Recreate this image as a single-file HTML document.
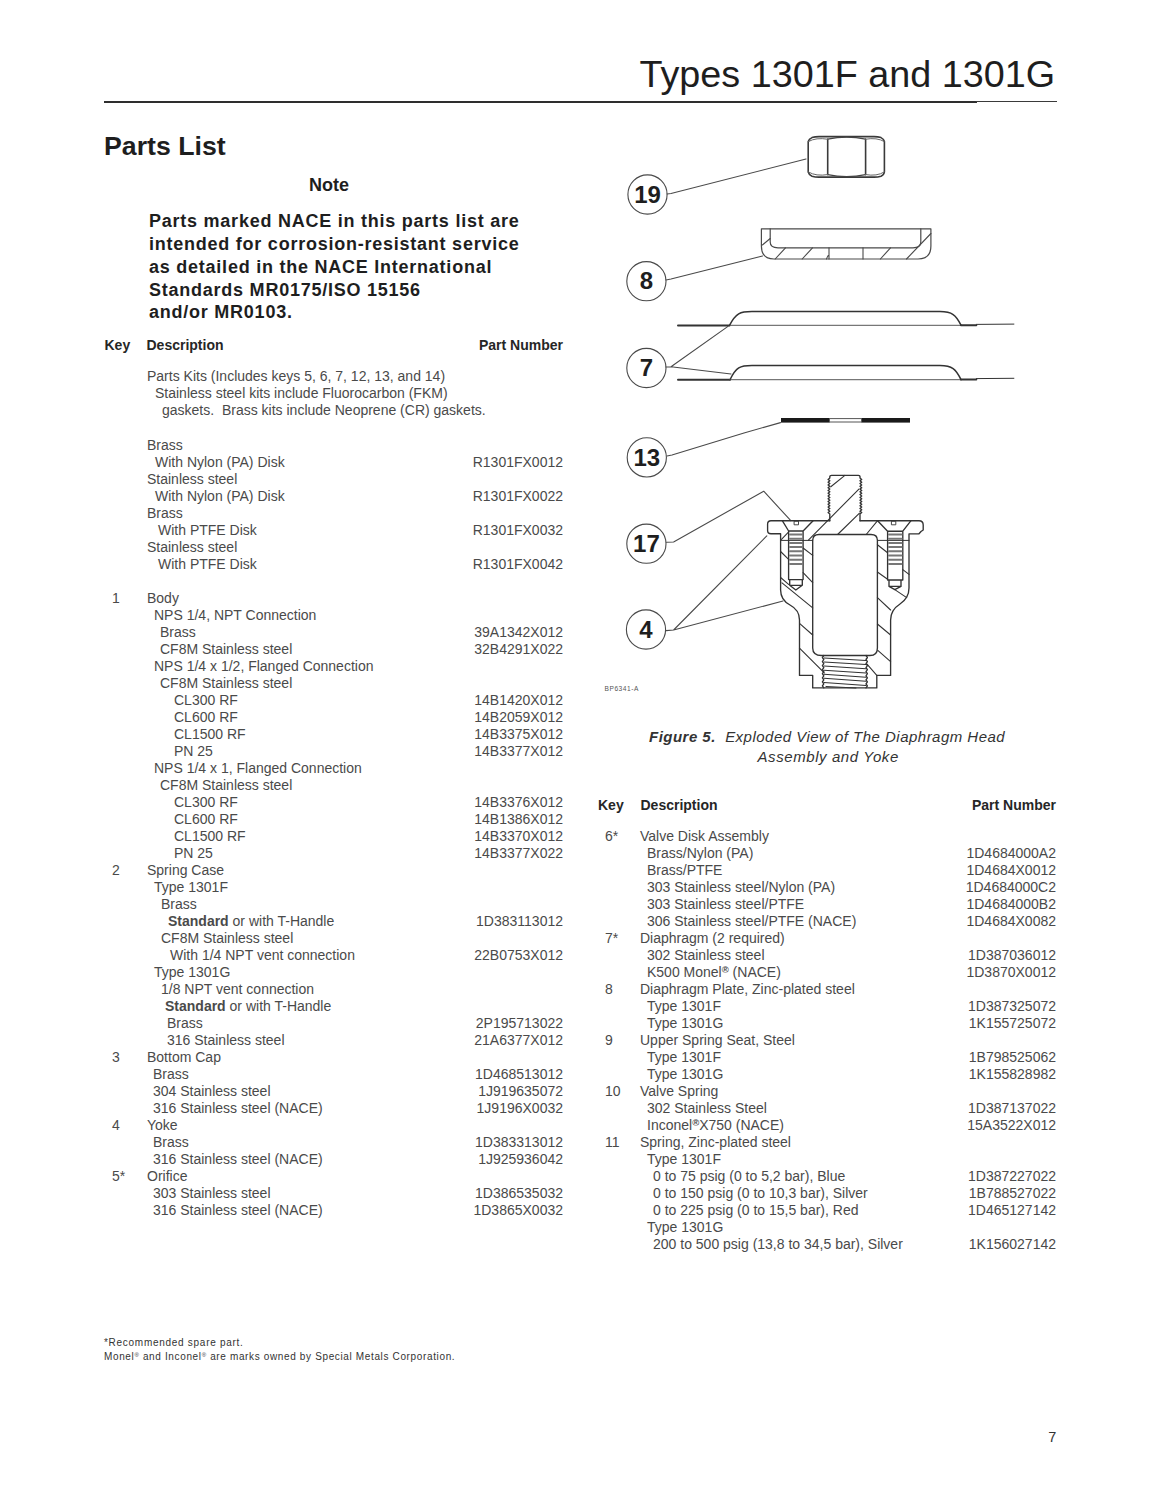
<!DOCTYPE html>
<html><head><meta charset="utf-8">
<style>
html,body{margin:0;padding:0;background:#fff;}
body{width:1159px;height:1500px;position:relative;overflow:hidden;font-family:"Liberation Sans",sans-serif;}
.t{position:absolute;white-space:nowrap;}
.t sup{font-size:68%;line-height:0;vertical-align:0.42em;font-weight:bold;}
.t sup.n{font-weight:normal;font-size:60%;}
svg{position:absolute;left:0;top:0;}
</style></head><body>
<svg width="1159" height="1500" viewBox="0 0 1159 1500">
<g fill="none" stroke="#4a4a4a" stroke-width="1.1" stroke-linejoin="round" stroke-linecap="round">
<!-- balloons -->
<circle cx="647.5" cy="194.5" r="19.6"/>
<circle cx="646.4" cy="281.2" r="19.6"/>
<circle cx="646.4" cy="368" r="19.6"/>
<circle cx="646.8" cy="457.4" r="19.6"/>
<circle cx="646.4" cy="543.7" r="19.6"/>
<circle cx="646" cy="629.5" r="19.6"/>
<!-- leaders -->
<path d="M667,194 L671,193.5 L806,159"/>
<path d="M666,280 L671,279 L762.5,256"/>
<path d="M666,367 L671,366.8 L728,326.4 M671,366.8 L731,374"/>
<path d="M667,456 L672,455 L744,433 L780.5,422.6"/>
<path d="M666.5,542.2 L673.6,542 L763.7,491.2 L790.8,520.7"/>
<path d="M666.3,630.6 L673.6,630 L766.8,535.9 M673.6,630 L783,601"/>

<!-- nut 19 -->
<path d="M808.2,141.5 Q809,139 812,137.6 Q815,136.6 819,136.6 L874,136.6 Q878,136.6 881,137.6 Q884,139 884.4,141.5 L884.4,172 Q884,175 881,176.2 Q878,177.1 874,177.1 L819,177.1 Q815,177.1 812,176.2 Q809,175 808.2,172 Z" stroke-width="1.6" stroke="#3a3a3a"/>
<path d="M827.7,139.2 L827.7,174.6 M865.6,139.2 L865.6,174.6" stroke-width="1.6" stroke="#3a3a3a"/>
<path d="M827.7,139.2 Q846.6,135.2 865.6,139.2 M827.7,174.6 Q846.6,178.6 865.6,174.6" stroke-width="1.2" stroke="#444"/>
<path d="M808.5,141.5 Q816,137.2 827.7,139.2 M865.6,139.2 Q877,137.2 884.2,141.5 M808.5,172 Q816,176.6 827.7,174.6 M865.6,174.6 Q877,176.6 884.2,172" stroke-width="1" stroke="#666"/>
<!-- diaphragm plate 8 -->
<path d="M761.4,228.8 L930.9,228.8 L930.9,246 Q930.9,259 918,259 L774,259 Q761.4,259 761.4,246 Z" stroke-width="1.2"/>
<path d="M770.2,228.8 L770.2,242 Q770.2,247.8 778,247.8 L913,247.8 Q920.8,247.8 920.8,242 L920.8,228.8" stroke-width="1.2"/>
<path d="M775.2,259 L785.5,247.8 M802.2,259 L812.5,247.8 M880.4,259 L890.5,247.8 M906.5,259 L930.9,233.5 M762.4,245 L770.2,238.5 M829,247.8 L829,259 M863,247.8 L863,259 M826.5,259 Q828,255 829,255"/>

<!-- diaphragms 7 -->
<path d="M678,325.4 L729.5,325.4" stroke-width="2" stroke="#333"/>
<path d="M729.5,325.4 L961,325.4" stroke="#777" stroke-width="1.2"/>
<path d="M729.5,325.4 C736,313 740,311.6 752,311.6 L940,311.6 C952,311.6 956,315 961,325.2" stroke-width="1.5" stroke="#333"/>
<path d="M961,325.2 L976.3,325.2" stroke-width="2" stroke="#333"/>
<path d="M976.3,324.4 L1013.9,324.1" stroke-width="1" stroke="#333"/>

<path d="M678,379.7 L730,379.7" stroke-width="2" stroke="#333"/>
<path d="M730,379.7 L961,379.7" stroke="#777" stroke-width="1.2"/>
<path d="M730,379.7 C736,367 740,365.4 752,365.4 L940,365.4 C952,365.4 956,369 961,379.6" stroke-width="1.5" stroke="#333"/>
<path d="M961,379.6 L976.3,379.6" stroke-width="2" stroke="#333"/>
<path d="M976.3,378.6 L1013.9,378.3" stroke-width="1" stroke="#333"/>

<!-- gasket 13 -->
<rect x="781" y="418" width="48.7" height="4.6" fill="#1a1a1a" stroke="none"/>
<rect x="861.3" y="418" width="48.7" height="4.6" fill="#1a1a1a" stroke="none"/>
<path d="M829.7,418.6 L861.3,418.6 M829.7,422 L861.3,422" stroke-width="1" stroke="#555"/>

<!-- yoke 4 -->
<g stroke="#333" stroke-width="1.35">
<!-- stem -->
<path d="M829.8,520.7 L829.8,514 L828.1,512.6 L829.8,511.2 L828.1,509.8 L829.8,508.5 L828.1,507.1 L829.8,505.7 L828.1,504.3 L829.8,502.9 L828.1,501.5 L829.8,500.2 L828.1,498.8 L829.8,497.4 L828.1,496.0 L829.8,494.6 L828.1,493.2 L829.8,491.8 L828.1,490.5 L829.8,489.1 L828.1,487.7 L829.8,486.3 L828.1,484.9 L829.8,483.5 L828.1,482.2 L829.8,480.8 L828.1,479.4 L829.8,478.0 L829.8,476.5 Q829.8,475.4 831.5,475.4 L858.5,475.4 Q860,475.4 860,476.5 L860,478 L861.7,479.4 L860.0,480.8 L861.7,482.2 L860.0,483.5 L861.7,484.9 L860.0,486.3 L861.7,487.7 L860.0,489.1 L861.7,490.5 L860.0,491.8 L861.7,493.2 L860.0,494.6 L861.7,496.0 L860.0,497.4 L861.7,498.8 L860.0,500.2 L861.7,501.5 L860.0,502.9 L861.7,504.3 L860.0,505.7 L861.7,507.1 L860.0,508.5 L861.7,509.8 L860.0,511.2 L861.7,512.6 L860.0,514.0 L860,520.7"/>
<!-- outer body -->
<path d="M829.8,520.7 L771,520.7 Q767.6,520.7 767.6,524 L767.6,530.5 Q767.6,533.7 771,533.7 L780.6,533.7 L780.6,590 Q780.6,600 790,605 Q799.5,610 799.5,620 L799.5,675.4 L812.7,675.4 L812.7,687.9 L876.8,687.9 L876.8,675.4 L890.6,675.4 L890.6,620 Q890.6,610 900,604 Q909,598 909,588 L909,533.8 L919,533.8 L921,531.5 L923.2,530 L923.2,525 Q923.2,520.7 919,520.7 L860,520.7"/>
<!-- cavity -->
<path d="M812.7,540.3 Q812.7,534.5 819,534.5 L871,534.5 Q877.4,534.5 877.4,540.3 L877.4,648 Q877.4,655.5 870,655.5 L821.5,655.5 Q812.7,655.5 812.7,648 Z"/>
<!-- gasket line -->
<path d="M780.6,540.4 L812.7,540.4 M877.4,540.4 L909,540.4" stroke-width="1"/>
<!-- left screw -->
<path d="M782.3,520.7 L788.6,531 L788.6,579.6 L803.1,579.6 L803.1,531 L813.1,520.7 M788.6,531 L803.1,531 M789.7,579.6 L789.7,585.3 L795.8,590 L802.3,585.3 L802.3,579.6 M789.7,585.3 L802.3,585.3"/>
<rect x="794.5" y="521.2" width="4" height="3.6" stroke-width="0.9"/>
<!-- right screw -->
<path d="M877.6,520.7 L887.6,531.2 L887.6,580 L902.8,580 L902.8,531.2 L911,520.7 M887.6,531.2 L902.8,531.2 M889,580 L889,586.4 L894.8,589.6 L901,586.4 L901,580 M889,586.4 L901,586.4"/>
<rect x="891.8" y="521.2" width="4" height="3.6" stroke-width="0.9"/>
<!-- bottom threaded hole -->
<path d="M823.8,655.5 L822.4,657.5 L823.8,659.5 L822.4,661.6 L823.8,663.6 L822.4,665.6 L823.8,667.6 L822.4,669.7 L823.8,671.7 L822.4,673.7 L823.8,675.8 L822.4,677.8 L823.8,679.8 L822.4,681.8 L823.8,683.8 L822.4,685.9 L823.8,687.9 M866,655.5 L867.4,657.5 L866.0,659.5 L867.4,661.6 L866.0,663.6 L867.4,665.6 L866.0,667.6 L867.4,669.7 L866.0,671.7 L867.4,673.7 L866.0,675.8 L867.4,677.8 L866.0,679.8 L867.4,681.8 L866.0,683.8 L867.4,685.9 L866.0,687.9"/>
<path d="M824,658 L866,660.5 M824,662 L866,664.5 M824,666 L866,668.8 M824,670.2 L866,673 M824,674.2 L866,677.2 M824,678.3 L866,681.3 M824,682.4 L866,685.4 M826,686.4 L856,687.9" stroke-width="1.05"/>
<!-- hatch -->
<path d="M830.8,486.8 L844.9,475.4 M808.4,540.1 L858.9,489.1 M837.6,534.5 L859.5,513.2 M866.2,534.5 L877.6,520.7 M781.5,539.3 L788.2,532.4
M780.6,551.5 L788.6,559.3 M803.1,548 L812.7,555.4 M780.6,577.5 L788.6,584.4 M803.1,572.7 L812.7,582.7 M782,582.9 L812.7,607.9 M799.5,623.3 L812.7,635 M799.5,648.2 L824.3,672.8
M877.4,544.8 L887.6,552.8 M877.4,572 L887.6,579.2 M902.8,569.6 L909,574.4 M877.4,597.6 L890.6,610 M894.8,589.6 L906.7,597.6 M877.4,624 L890.6,635 M877.8,650.4 L890.6,661.6 M867,664.2 L876.8,675.4" stroke-width="1.1"/>
<path d="M790,534.5 L802,534.5 M790,538.7 L802,538.7 M790,542.9 L802,542.9 M790,547.1 L802,547.1 M790,551.3 L802,551.3 M790,555.5 L802,555.5 M790,559.7 L802,559.7 M790,563.9 L802,563.9
M889,534.5 L901.5,534.5 M889,538.7 L901.5,538.7 M889,542.9 L901.5,542.9 M889,547.1 L901.5,547.1 M889,551.3 L901.5,551.3 M889,555.5 L901.5,555.5 M889,559.7 L901.5,559.7 M889,563.9 L901.5,563.9" stroke="#777" stroke-width="2"/>
</g>
</g>
</svg>

<div class="t" style="top:56.04px;font-size:37.75px;line-height:37.75px;color:#1e1e1e;right:104px;">Types 1301F and 1301G</div>
<div style="position:absolute;left:104px;top:101px;width:872.5px;height:2.2px;background:#2e2e2e"></div>
<div style="position:absolute;left:976px;top:101px;width:80.5px;height:1.3px;background:#3a3a3a"></div>
<div class="t" style="top:132.50px;font-size:26.7px;line-height:26.7px;font-weight:bold;color:#1e1e1e;left:104px;">Parts List</div>
<div class="t" style="top:176.26px;font-size:18px;line-height:18px;font-weight:bold;color:#1e1e1e;left:29px;width:600px;text-align:center;">Note</div>
<div class="t" style="top:212.26px;font-size:18px;line-height:18px;font-weight:bold;color:#1e1e1e;letter-spacing:0.76px;left:149px;">Parts marked NACE in this parts list are</div>
<div class="t" style="top:235.06px;font-size:18px;line-height:18px;font-weight:bold;color:#1e1e1e;letter-spacing:0.76px;left:149px;">intended for corrosion-resistant service</div>
<div class="t" style="top:257.86px;font-size:18px;line-height:18px;font-weight:bold;color:#1e1e1e;letter-spacing:0.76px;left:149px;">as detailed in the NACE International</div>
<div class="t" style="top:280.66px;font-size:18px;line-height:18px;font-weight:bold;color:#1e1e1e;letter-spacing:0.76px;left:149px;">Standards MR0175/ISO 15156</div>
<div class="t" style="top:303.46px;font-size:18px;line-height:18px;font-weight:bold;color:#1e1e1e;letter-spacing:0.76px;left:149px;">and/or MR0103.</div>
<div class="t" style="top:338.15px;font-size:14px;line-height:14px;font-weight:bold;color:#262626;left:104.5px;">Key</div>
<div class="t" style="top:338.15px;font-size:14px;line-height:14px;font-weight:bold;color:#262626;left:146.5px;">Description</div>
<div class="t" style="top:338.15px;font-size:14px;line-height:14px;font-weight:bold;color:#262626;right:596px;">Part Number</div>
<div class="t" style="top:369.15px;font-size:14px;line-height:14px;color:#4a4a4a;left:147px;">Parts Kits (Includes keys 5, 6, 7, 12, 13, and 14)</div>
<div class="t" style="top:386.15px;font-size:14px;line-height:14px;color:#4a4a4a;left:155px;">Stainless steel kits include Fluorocarbon (FKM)</div>
<div class="t" style="top:403.15px;font-size:14px;line-height:14px;color:#4a4a4a;left:162px;">gaskets.&nbsp; Brass kits include Neoprene (CR) gaskets.</div>
<div class="t" style="top:437.55px;font-size:14px;line-height:14px;color:#4a4a4a;left:147px;">Brass</div>
<div class="t" style="top:454.55px;font-size:14px;line-height:14px;color:#4a4a4a;left:155px;">With Nylon (PA) Disk</div>
<div class="t" style="top:454.55px;font-size:14px;line-height:14px;color:#4a4a4a;right:596px;">R1301FX0012</div>
<div class="t" style="top:471.55px;font-size:14px;line-height:14px;color:#4a4a4a;left:147px;">Stainless steel</div>
<div class="t" style="top:488.55px;font-size:14px;line-height:14px;color:#4a4a4a;left:155px;">With Nylon (PA) Disk</div>
<div class="t" style="top:488.55px;font-size:14px;line-height:14px;color:#4a4a4a;right:596px;">R1301FX0022</div>
<div class="t" style="top:505.55px;font-size:14px;line-height:14px;color:#4a4a4a;left:147px;">Brass</div>
<div class="t" style="top:522.55px;font-size:14px;line-height:14px;color:#4a4a4a;left:158px;">With PTFE Disk</div>
<div class="t" style="top:522.55px;font-size:14px;line-height:14px;color:#4a4a4a;right:596px;">R1301FX0032</div>
<div class="t" style="top:539.55px;font-size:14px;line-height:14px;color:#4a4a4a;left:147px;">Stainless steel</div>
<div class="t" style="top:556.55px;font-size:14px;line-height:14px;color:#4a4a4a;left:158px;">With PTFE Disk</div>
<div class="t" style="top:556.55px;font-size:14px;line-height:14px;color:#4a4a4a;right:596px;">R1301FX0042</div>
<div class="t" style="top:591.15px;font-size:14px;line-height:14px;color:#4a4a4a;left:112px;">1</div>
<div class="t" style="top:591.15px;font-size:14px;line-height:14px;color:#4a4a4a;left:147px;">Body</div>
<div class="t" style="top:608.15px;font-size:14px;line-height:14px;color:#4a4a4a;left:154px;">NPS 1/4, NPT Connection</div>
<div class="t" style="top:625.15px;font-size:14px;line-height:14px;color:#4a4a4a;left:160px;">Brass</div>
<div class="t" style="top:625.15px;font-size:14px;line-height:14px;color:#4a4a4a;right:596px;">39A1342X012</div>
<div class="t" style="top:642.15px;font-size:14px;line-height:14px;color:#4a4a4a;left:160px;">CF8M Stainless steel</div>
<div class="t" style="top:642.15px;font-size:14px;line-height:14px;color:#4a4a4a;right:596px;">32B4291X022</div>
<div class="t" style="top:659.15px;font-size:14px;line-height:14px;color:#4a4a4a;left:154px;">NPS 1/4 x 1/2, Flanged Connection</div>
<div class="t" style="top:676.15px;font-size:14px;line-height:14px;color:#4a4a4a;left:160px;">CF8M Stainless steel</div>
<div class="t" style="top:693.15px;font-size:14px;line-height:14px;color:#4a4a4a;left:174px;">CL300 RF</div>
<div class="t" style="top:693.15px;font-size:14px;line-height:14px;color:#4a4a4a;right:596px;">14B1420X012</div>
<div class="t" style="top:710.15px;font-size:14px;line-height:14px;color:#4a4a4a;left:174px;">CL600 RF</div>
<div class="t" style="top:710.15px;font-size:14px;line-height:14px;color:#4a4a4a;right:596px;">14B2059X012</div>
<div class="t" style="top:727.15px;font-size:14px;line-height:14px;color:#4a4a4a;left:174px;">CL1500 RF</div>
<div class="t" style="top:727.15px;font-size:14px;line-height:14px;color:#4a4a4a;right:596px;">14B3375X012</div>
<div class="t" style="top:744.15px;font-size:14px;line-height:14px;color:#4a4a4a;left:174px;">PN 25</div>
<div class="t" style="top:744.15px;font-size:14px;line-height:14px;color:#4a4a4a;right:596px;">14B3377X012</div>
<div class="t" style="top:761.15px;font-size:14px;line-height:14px;color:#4a4a4a;left:154px;">NPS 1/4 x 1, Flanged Connection</div>
<div class="t" style="top:778.15px;font-size:14px;line-height:14px;color:#4a4a4a;left:160px;">CF8M Stainless steel</div>
<div class="t" style="top:795.15px;font-size:14px;line-height:14px;color:#4a4a4a;left:174px;">CL300 RF</div>
<div class="t" style="top:795.15px;font-size:14px;line-height:14px;color:#4a4a4a;right:596px;">14B3376X012</div>
<div class="t" style="top:812.15px;font-size:14px;line-height:14px;color:#4a4a4a;left:174px;">CL600 RF</div>
<div class="t" style="top:812.15px;font-size:14px;line-height:14px;color:#4a4a4a;right:596px;">14B1386X012</div>
<div class="t" style="top:829.15px;font-size:14px;line-height:14px;color:#4a4a4a;left:174px;">CL1500 RF</div>
<div class="t" style="top:829.15px;font-size:14px;line-height:14px;color:#4a4a4a;right:596px;">14B3370X012</div>
<div class="t" style="top:846.15px;font-size:14px;line-height:14px;color:#4a4a4a;left:174px;">PN 25</div>
<div class="t" style="top:846.15px;font-size:14px;line-height:14px;color:#4a4a4a;right:596px;">14B3377X022</div>
<div class="t" style="top:863.15px;font-size:14px;line-height:14px;color:#4a4a4a;left:112px;">2</div>
<div class="t" style="top:863.15px;font-size:14px;line-height:14px;color:#4a4a4a;left:147px;">Spring Case</div>
<div class="t" style="top:880.15px;font-size:14px;line-height:14px;color:#4a4a4a;left:154px;">Type 1301F</div>
<div class="t" style="top:897.15px;font-size:14px;line-height:14px;color:#4a4a4a;left:161px;">Brass</div>
<div class="t" style="top:914.15px;font-size:14px;line-height:14px;color:#4a4a4a;left:168px;"><b>Standard</b> or with T-Handle</div>
<div class="t" style="top:914.15px;font-size:14px;line-height:14px;color:#4a4a4a;right:596px;">1D383113012</div>
<div class="t" style="top:931.15px;font-size:14px;line-height:14px;color:#4a4a4a;left:161px;">CF8M Stainless steel</div>
<div class="t" style="top:948.15px;font-size:14px;line-height:14px;color:#4a4a4a;left:170px;">With 1/4 NPT vent connection</div>
<div class="t" style="top:948.15px;font-size:14px;line-height:14px;color:#4a4a4a;right:596px;">22B0753X012</div>
<div class="t" style="top:965.15px;font-size:14px;line-height:14px;color:#4a4a4a;left:154px;">Type 1301G</div>
<div class="t" style="top:982.15px;font-size:14px;line-height:14px;color:#4a4a4a;left:161px;">1/8 NPT vent connection</div>
<div class="t" style="top:999.15px;font-size:14px;line-height:14px;color:#4a4a4a;left:165px;"><b>Standard</b> or with T-Handle</div>
<div class="t" style="top:1016.15px;font-size:14px;line-height:14px;color:#4a4a4a;left:167px;">Brass</div>
<div class="t" style="top:1016.15px;font-size:14px;line-height:14px;color:#4a4a4a;right:596px;">2P195713022</div>
<div class="t" style="top:1033.15px;font-size:14px;line-height:14px;color:#4a4a4a;left:167px;">316 Stainless steel</div>
<div class="t" style="top:1033.15px;font-size:14px;line-height:14px;color:#4a4a4a;right:596px;">21A6377X012</div>
<div class="t" style="top:1050.15px;font-size:14px;line-height:14px;color:#4a4a4a;left:112px;">3</div>
<div class="t" style="top:1050.15px;font-size:14px;line-height:14px;color:#4a4a4a;left:147px;">Bottom Cap</div>
<div class="t" style="top:1067.15px;font-size:14px;line-height:14px;color:#4a4a4a;left:153px;">Brass</div>
<div class="t" style="top:1067.15px;font-size:14px;line-height:14px;color:#4a4a4a;right:596px;">1D468513012</div>
<div class="t" style="top:1084.15px;font-size:14px;line-height:14px;color:#4a4a4a;left:153px;">304 Stainless steel</div>
<div class="t" style="top:1084.15px;font-size:14px;line-height:14px;color:#4a4a4a;right:596px;">1J919635072</div>
<div class="t" style="top:1101.15px;font-size:14px;line-height:14px;color:#4a4a4a;left:153px;">316 Stainless steel (NACE)</div>
<div class="t" style="top:1101.15px;font-size:14px;line-height:14px;color:#4a4a4a;right:596px;">1J9196X0032</div>
<div class="t" style="top:1118.15px;font-size:14px;line-height:14px;color:#4a4a4a;left:112px;">4</div>
<div class="t" style="top:1118.15px;font-size:14px;line-height:14px;color:#4a4a4a;left:147px;">Yoke</div>
<div class="t" style="top:1135.15px;font-size:14px;line-height:14px;color:#4a4a4a;left:153px;">Brass</div>
<div class="t" style="top:1135.15px;font-size:14px;line-height:14px;color:#4a4a4a;right:596px;">1D383313012</div>
<div class="t" style="top:1152.15px;font-size:14px;line-height:14px;color:#4a4a4a;left:153px;">316 Stainless steel (NACE)</div>
<div class="t" style="top:1152.15px;font-size:14px;line-height:14px;color:#4a4a4a;right:596px;">1J925936042</div>
<div class="t" style="top:1169.15px;font-size:14px;line-height:14px;color:#4a4a4a;left:112px;">5*</div>
<div class="t" style="top:1169.15px;font-size:14px;line-height:14px;color:#4a4a4a;left:147px;">Orifice</div>
<div class="t" style="top:1186.15px;font-size:14px;line-height:14px;color:#4a4a4a;left:153px;">303 Stainless steel</div>
<div class="t" style="top:1186.15px;font-size:14px;line-height:14px;color:#4a4a4a;right:596px;">1D386535032</div>
<div class="t" style="top:1203.15px;font-size:14px;line-height:14px;color:#4a4a4a;left:153px;">316 Stainless steel (NACE)</div>
<div class="t" style="top:1203.15px;font-size:14px;line-height:14px;color:#4a4a4a;right:596px;">1D3865X0032</div>
<div class="t" style="top:798.35px;font-size:14px;line-height:14px;font-weight:bold;color:#262626;left:598px;">Key</div>
<div class="t" style="top:798.35px;font-size:14px;line-height:14px;font-weight:bold;color:#262626;left:640.5px;">Description</div>
<div class="t" style="top:798.35px;font-size:14px;line-height:14px;font-weight:bold;color:#262626;right:103px;">Part Number</div>
<div class="t" style="top:829.15px;font-size:14px;line-height:14px;color:#4a4a4a;left:605px;">6*</div>
<div class="t" style="top:829.15px;font-size:14px;line-height:14px;color:#4a4a4a;left:640px;">Valve Disk Assembly</div>
<div class="t" style="top:846.15px;font-size:14px;line-height:14px;color:#4a4a4a;left:647px;">Brass/Nylon (PA)</div>
<div class="t" style="top:846.15px;font-size:14px;line-height:14px;color:#4a4a4a;right:103px;">1D4684000A2</div>
<div class="t" style="top:863.15px;font-size:14px;line-height:14px;color:#4a4a4a;left:647px;">Brass/PTFE</div>
<div class="t" style="top:863.15px;font-size:14px;line-height:14px;color:#4a4a4a;right:103px;">1D4684X0012</div>
<div class="t" style="top:880.15px;font-size:14px;line-height:14px;color:#4a4a4a;left:647px;">303 Stainless steel/Nylon (PA)</div>
<div class="t" style="top:880.15px;font-size:14px;line-height:14px;color:#4a4a4a;right:103px;">1D4684000C2</div>
<div class="t" style="top:897.15px;font-size:14px;line-height:14px;color:#4a4a4a;left:647px;">303 Stainless steel/PTFE</div>
<div class="t" style="top:897.15px;font-size:14px;line-height:14px;color:#4a4a4a;right:103px;">1D4684000B2</div>
<div class="t" style="top:914.15px;font-size:14px;line-height:14px;color:#4a4a4a;left:647px;">306 Stainless steel/PTFE (NACE)</div>
<div class="t" style="top:914.15px;font-size:14px;line-height:14px;color:#4a4a4a;right:103px;">1D4684X0082</div>
<div class="t" style="top:931.15px;font-size:14px;line-height:14px;color:#4a4a4a;left:605px;">7*</div>
<div class="t" style="top:931.15px;font-size:14px;line-height:14px;color:#4a4a4a;left:640px;">Diaphragm (2 required)</div>
<div class="t" style="top:948.15px;font-size:14px;line-height:14px;color:#4a4a4a;left:647px;">302 Stainless steel</div>
<div class="t" style="top:948.15px;font-size:14px;line-height:14px;color:#4a4a4a;right:103px;">1D387036012</div>
<div class="t" style="top:965.15px;font-size:14px;line-height:14px;color:#4a4a4a;left:647px;">K500 Monel<sup>&reg;</sup> (NACE)</div>
<div class="t" style="top:965.15px;font-size:14px;line-height:14px;color:#4a4a4a;right:103px;">1D3870X0012</div>
<div class="t" style="top:982.15px;font-size:14px;line-height:14px;color:#4a4a4a;left:605px;">8</div>
<div class="t" style="top:982.15px;font-size:14px;line-height:14px;color:#4a4a4a;left:640px;">Diaphragm Plate, Zinc-plated steel</div>
<div class="t" style="top:999.15px;font-size:14px;line-height:14px;color:#4a4a4a;left:647px;">Type 1301F</div>
<div class="t" style="top:999.15px;font-size:14px;line-height:14px;color:#4a4a4a;right:103px;">1D387325072</div>
<div class="t" style="top:1016.15px;font-size:14px;line-height:14px;color:#4a4a4a;left:647px;">Type 1301G</div>
<div class="t" style="top:1016.15px;font-size:14px;line-height:14px;color:#4a4a4a;right:103px;">1K155725072</div>
<div class="t" style="top:1033.15px;font-size:14px;line-height:14px;color:#4a4a4a;left:605px;">9</div>
<div class="t" style="top:1033.15px;font-size:14px;line-height:14px;color:#4a4a4a;left:640px;">Upper Spring Seat, Steel</div>
<div class="t" style="top:1050.15px;font-size:14px;line-height:14px;color:#4a4a4a;left:647px;">Type 1301F</div>
<div class="t" style="top:1050.15px;font-size:14px;line-height:14px;color:#4a4a4a;right:103px;">1B798525062</div>
<div class="t" style="top:1067.15px;font-size:14px;line-height:14px;color:#4a4a4a;left:647px;">Type 1301G</div>
<div class="t" style="top:1067.15px;font-size:14px;line-height:14px;color:#4a4a4a;right:103px;">1K155828982</div>
<div class="t" style="top:1084.15px;font-size:14px;line-height:14px;color:#4a4a4a;left:605px;">10</div>
<div class="t" style="top:1084.15px;font-size:14px;line-height:14px;color:#4a4a4a;left:640px;">Valve Spring</div>
<div class="t" style="top:1101.15px;font-size:14px;line-height:14px;color:#4a4a4a;left:647px;">302 Stainless Steel</div>
<div class="t" style="top:1101.15px;font-size:14px;line-height:14px;color:#4a4a4a;right:103px;">1D387137022</div>
<div class="t" style="top:1118.15px;font-size:14px;line-height:14px;color:#4a4a4a;left:647px;">Inconel<sup>&reg;</sup>X750 (NACE)</div>
<div class="t" style="top:1118.15px;font-size:14px;line-height:14px;color:#4a4a4a;right:103px;">15A3522X012</div>
<div class="t" style="top:1135.15px;font-size:14px;line-height:14px;color:#4a4a4a;left:605px;">11</div>
<div class="t" style="top:1135.15px;font-size:14px;line-height:14px;color:#4a4a4a;left:640px;">Spring, Zinc-plated steel</div>
<div class="t" style="top:1152.15px;font-size:14px;line-height:14px;color:#4a4a4a;left:647px;">Type 1301F</div>
<div class="t" style="top:1169.15px;font-size:14px;line-height:14px;color:#4a4a4a;left:653px;">0 to 75 psig (0 to 5,2 bar), Blue</div>
<div class="t" style="top:1169.15px;font-size:14px;line-height:14px;color:#4a4a4a;right:103px;">1D387227022</div>
<div class="t" style="top:1186.15px;font-size:14px;line-height:14px;color:#4a4a4a;left:653px;">0 to 150 psig (0 to 10,3 bar), Silver</div>
<div class="t" style="top:1186.15px;font-size:14px;line-height:14px;color:#4a4a4a;right:103px;">1B788527022</div>
<div class="t" style="top:1203.15px;font-size:14px;line-height:14px;color:#4a4a4a;left:653px;">0 to 225 psig (0 to 15,5 bar), Red</div>
<div class="t" style="top:1203.15px;font-size:14px;line-height:14px;color:#4a4a4a;right:103px;">1D465127142</div>
<div class="t" style="top:1220.15px;font-size:14px;line-height:14px;color:#4a4a4a;left:647px;">Type 1301G</div>
<div class="t" style="top:1237.15px;font-size:14px;line-height:14px;color:#4a4a4a;left:653px;">200 to 500 psig (13,8 to 34,5 bar), Silver</div>
<div class="t" style="top:1237.15px;font-size:14px;line-height:14px;color:#4a4a4a;right:103px;">1K156027142</div>
<div class="t" style="top:182.68px;font-size:24px;line-height:24px;font-weight:bold;color:#1e1e1e;left:347.5px;width:600px;text-align:center;">19</div>
<div class="t" style="top:269.38px;font-size:24px;line-height:24px;font-weight:bold;color:#1e1e1e;left:346.4px;width:600px;text-align:center;">8</div>
<div class="t" style="top:356.18px;font-size:24px;line-height:24px;font-weight:bold;color:#1e1e1e;left:346.4px;width:600px;text-align:center;">7</div>
<div class="t" style="top:445.58px;font-size:24px;line-height:24px;font-weight:bold;color:#1e1e1e;left:346.79999999999995px;width:600px;text-align:center;">13</div>
<div class="t" style="top:531.88px;font-size:24px;line-height:24px;font-weight:bold;color:#1e1e1e;left:346.4px;width:600px;text-align:center;">17</div>
<div class="t" style="top:617.68px;font-size:24px;line-height:24px;font-weight:bold;color:#1e1e1e;left:346px;width:600px;text-align:center;">4</div>
<div class="t" style="top:728.90px;font-size:15px;line-height:15px;font-style:italic;color:#333;letter-spacing:0.48px;left:649px;"><b>Figure 5.</b>&nbsp; Exploded View of The Diaphragm Head</div>
<div class="t" style="top:748.70px;font-size:15px;line-height:15px;font-style:italic;color:#333;letter-spacing:0.58px;left:757.5px;">Assembly and Yoke</div>
<div class="t" style="top:685.91px;font-size:6.6px;line-height:6.6px;color:#555;letter-spacing:0.55px;left:604.5px;">BP6341-A</div>
<div class="t" style="top:1337.94px;font-size:10px;line-height:10px;color:#333;letter-spacing:0.72px;left:104px;">*Recommended spare part.</div>
<div class="t" style="top:1351.54px;font-size:10px;line-height:10px;color:#333;letter-spacing:0.64px;left:104px;">Monel<sup class=n>&reg;</sup> and Inconel<sup class=n>&reg;</sup> are marks owned by Special Metals Corporation.</div>
<div class="t" style="top:1430.03px;font-size:14.5px;line-height:14.5px;color:#333;right:102.79999999999995px;">7</div>
</body></html>
